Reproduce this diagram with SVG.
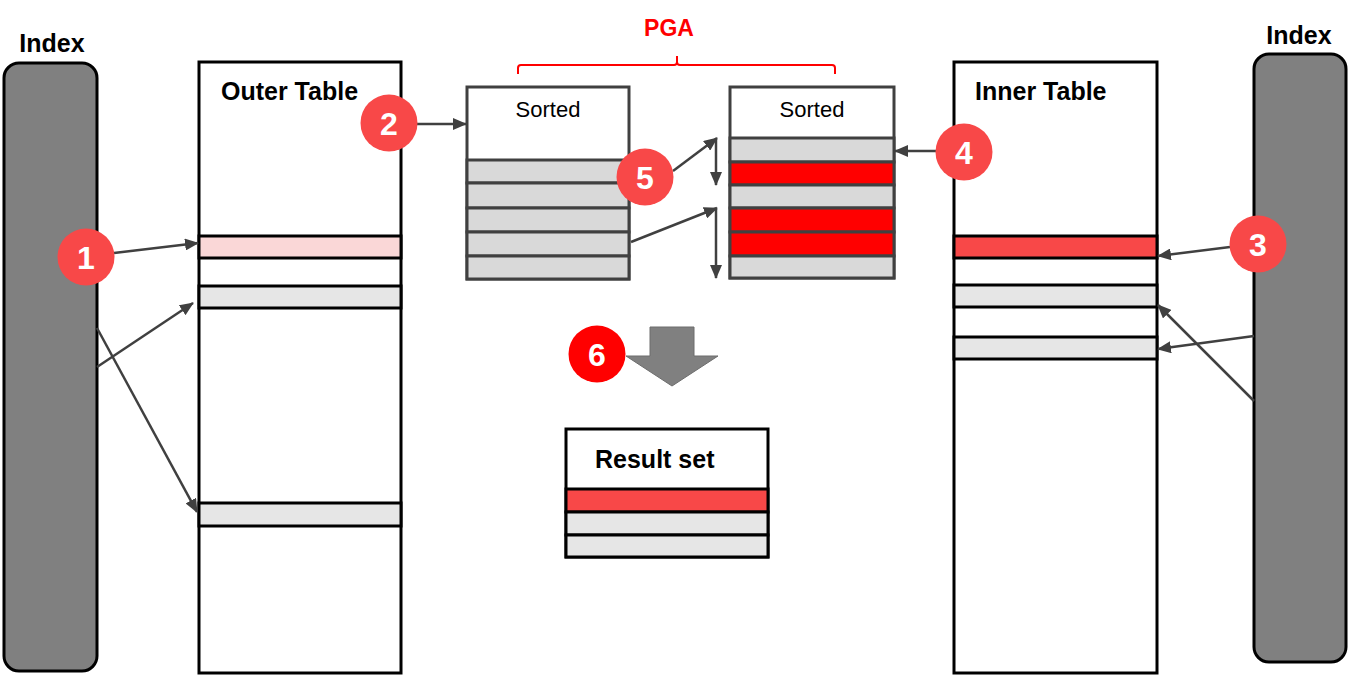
<svg xmlns="http://www.w3.org/2000/svg" width="1350" height="678" viewBox="0 0 1350 678">
<defs>
<style>
.lbl{font-family:"Liberation Sans",Arial,sans-serif;font-weight:bold;font-size:25px;fill:#000}
.srt{font-family:"Liberation Sans",Arial,sans-serif;font-size:22px;fill:#000;text-anchor:middle}
.idx{fill:#808080;stroke:#000;stroke-width:3}
.tbl{fill:#fff;stroke:#000;stroke-width:3}
.row{stroke:#000;stroke-width:3}
.srow{stroke:#404040;stroke-width:3}
.badge{fill:#F84848}
.num{font-family:"Liberation Sans",Arial,sans-serif;font-weight:bold;font-size:32px;fill:#fff;text-anchor:middle}
.conn{stroke:#404040;stroke-width:2.5;fill:none;marker-end:url(#ah)}
</style>
<marker id="ah" markerUnits="userSpaceOnUse" markerWidth="14" markerHeight="12" refX="13" refY="6" orient="auto">
<path d="M0,0 L14,6 L0,12 z" fill="#404040"/>
</marker>
</defs>
<rect width="1350" height="678" fill="#fff"/>

<g id="index-left">
<text class="lbl" x="52" y="52" text-anchor="middle">Index</text>
<rect class="idx" x="4" y="63" width="93" height="608" rx="15"/>
</g>

<g id="outer-table">
<rect class="tbl" x="199" y="62" width="202" height="611"/>
<rect class="row" x="199" y="236" width="202" height="22" fill="#FAD7D7"/>
<rect class="row" x="199" y="286" width="202" height="22" fill="#E6E6E6"/>
<rect class="row" x="199" y="503" width="202" height="23" fill="#E6E6E6"/>
<text class="lbl" x="221" y="100">Outer Table</text>
</g>

<g id="pga">
<text x="669" y="36" text-anchor="middle" style="font-family:'Liberation Sans',Arial,sans-serif;font-weight:bold;font-size:23px;fill:#FF0000">PGA</text>
<path d="M518,74 V68 Q518,65 521,65 H674 Q677,65 677,62 V56 M677,62 Q677,65 680,65 H832 Q835,65 835,68 V74" fill="none" stroke="#FF0000" stroke-width="2"/>
</g>

<g id="sorted-left">
<rect x="467" y="87" width="162" height="192" fill="#fff" stroke="#404040" stroke-width="3"/>
<rect class="srow" x="467" y="160" width="162" height="23" fill="#D9D9D9"/>
<rect class="srow" x="467" y="183" width="162" height="25" fill="#D9D9D9"/>
<rect class="srow" x="467" y="208" width="162" height="24" fill="#D9D9D9"/>
<rect class="srow" x="467" y="232" width="162" height="24" fill="#D9D9D9"/>
<rect class="srow" x="467" y="256" width="162" height="23" fill="#D9D9D9"/>
<text class="srt" x="548" y="117">Sorted</text>
</g>

<g id="sorted-right">
<rect x="730" y="87" width="164" height="191" fill="#fff" stroke="#404040" stroke-width="3"/>
<rect class="srow" x="730" y="138" width="164" height="24" fill="#D9D9D9"/>
<rect class="srow" x="730" y="162" width="164" height="23" fill="#FF0000"/>
<rect class="srow" x="730" y="185" width="164" height="23" fill="#D9D9D9"/>
<rect class="srow" x="730" y="208" width="164" height="24" fill="#FF0000"/>
<rect class="srow" x="730" y="232" width="164" height="24" fill="#FF0000"/>
<rect class="srow" x="730" y="256" width="164" height="22" fill="#D9D9D9"/>
<text class="srt" x="812" y="117">Sorted</text>
</g>

<g id="inner-table">
<rect class="tbl" x="954" y="62" width="203" height="611"/>
<rect class="row" x="954" y="236" width="203" height="22" fill="#F84848"/>
<rect class="row" x="954" y="285" width="203" height="22" fill="#E6E6E6"/>
<rect class="row" x="954" y="337" width="203" height="22" fill="#E6E6E6"/>
<text class="lbl" x="975" y="100">Inner Table</text>
</g>

<g id="index-right">
<text class="lbl" x="1299" y="44" text-anchor="middle">Index</text>
<rect class="idx" x="1254" y="54" width="92" height="608" rx="15"/>
</g>

<g id="result-arrow">
<path d="M650,327 H694 V356 H718 L672,386 L626,356 H650 Z" fill="#808080" stroke="#6D6D6D" stroke-width="1"/>
</g>

<g id="result-set">
<rect x="566" y="429" width="202" height="128" fill="#fff" stroke="#000" stroke-width="3"/>
<rect class="row" x="566" y="489" width="202" height="23" fill="#F84848"/>
<rect class="row" x="566" y="512" width="202" height="23" fill="#E6E6E6"/>
<rect class="row" x="566" y="535" width="202" height="22" fill="#E6E6E6"/>
<text class="lbl" x="595" y="468">Result set</text>
</g>

<g id="connectors">
<line class="conn" x1="114" y1="253" x2="198" y2="243"/>
<line class="conn" x1="97" y1="367" x2="193" y2="303"/>
<line class="conn" x1="97" y1="328" x2="197" y2="512"/>
<line class="conn" x1="417" y1="124" x2="466" y2="124"/>
<line class="conn" x1="673" y1="171" x2="717" y2="138"/>
<line class="conn" x1="631" y1="242" x2="717" y2="208"/>
<line class="conn" x1="716" y1="139" x2="716" y2="185"/>
<line class="conn" x1="716" y1="209" x2="716" y2="278"/>
<line class="conn" x1="937" y1="151" x2="895" y2="151"/>
<line class="conn" x1="1230" y1="247" x2="1158" y2="256"/>
<line class="conn" x1="1254" y1="336" x2="1158" y2="349"/>
<line class="conn" x1="1254" y1="401" x2="1158" y2="305"/>
</g>

<g id="badge-1"><circle class="badge" cx="86" cy="257" r="28.5"/><text class="num" x="86" y="269">1</text></g>
<g id="badge-2"><circle class="badge" cx="389" cy="123" r="28.5"/><text class="num" x="389" y="135">2</text></g>
<g id="badge-3"><circle class="badge" cx="1258" cy="244" r="28.5"/><text class="num" x="1258" y="256">3</text></g>
<g id="badge-4"><circle class="badge" cx="964" cy="152" r="28.5"/><text class="num" x="964" y="164">4</text></g>
<g id="badge-5"><circle class="badge" cx="645" cy="177" r="28.5"/><text class="num" x="645" y="189">5</text></g>
<g id="badge-6"><circle cx="597" cy="354" r="28.5" fill="#FF0000"/><text class="num" x="597" y="366">6</text></g>
</svg>
